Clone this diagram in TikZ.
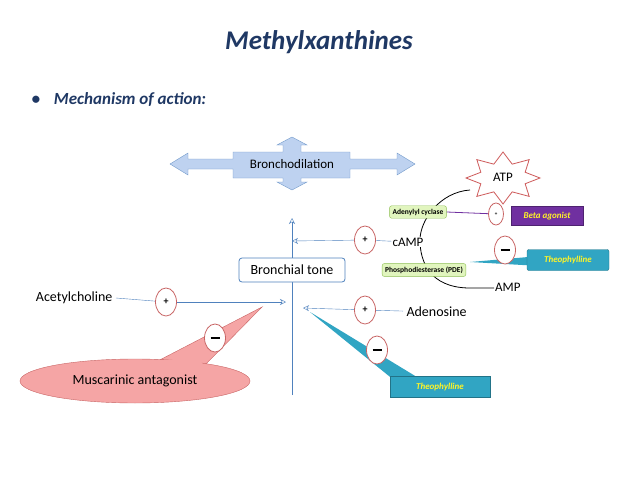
\documentclass[tikz,border=0pt]{standalone}
\usepackage{fontspec}
\setmainfont{Carlito}
\usetikzlibrary{shapes.geometric,shapes.symbols,positioning,arrows.meta}
\tikzset{>=Stealth}
\definecolor{titleblue}{RGB}{31,56,100}
\definecolor{lineblue}{RGB}{79,129,189}
\definecolor{arrowfill}{RGB}{190,210,240}
\definecolor{signred}{RGB}{200,100,100}
\definecolor{boxgreen}{RGB}{225,245,190}
\definecolor{edgegreen}{RGB}{140,190,80}
\definecolor{tealbox}{RGB}{49,165,195}
\definecolor{purplebox}{RGB}{112,48,160}
\definecolor{pinkfill}{RGB}{245,165,165}
\tikzset{
  sign/.style={ellipse,draw=signred,thick,fill=white,minimum width=21pt,minimum height=28pt,inner sep=0pt,font=\bfseries},
  enzyme/.style={draw=edgegreen,fill=boxgreen,rounded corners=2pt,font=\fontsize{7.5}{8}\selectfont\bfseries,inner sep=3pt},
  drug/.style={fill=tealbox,draw=tealbox!70!black,font=\fontsize{9}{10}\selectfont\bfseries\itshape,text=yellow!85!white},
  txt/.style={font=\fontsize{14}{16}\selectfont},
  flow/.style={lineblue,->,>={Stealth[open,length=6pt,width=6pt]}},
}
\newcommand{\minus}{\rule{9pt}{1.8pt}}
\begin{document}
\begin{tikzpicture}[x=1pt,y=-1pt]
  \useasboundingbox (0,0) rectangle (638,479);

  % headings
  \node[font=\fontsize{27}{30}\selectfont\bfseries\itshape,text=titleblue] (title) at (319,42) {Methylxanthines};
  \node[anchor=west,font=\fontsize{17}{20}\selectfont\bfseries\itshape,text=titleblue] (bullet) at (28,100) {•\hspace{14pt}Mechanism of action:};

  % bronchodilation arrows
  \fill[arrowfill,draw=lineblue!80] (170,164) -- (188,153) -- (188,159) -- (233,159) -- (233,152) -- (283,152)
    -- (283,145) -- (277,145) -- (292,137) -- (307,145) -- (301,145) -- (301,152) -- (350,152) -- (350,159)
    -- (397,159) -- (397,153) -- (415,164) -- (397,175) -- (397,169) -- (350,169) -- (350,178) -- (301,178)
    -- (301,182) -- (307,182) -- (292,190) -- (277,182) -- (283,182) -- (283,178) -- (233,178) -- (233,169)
    -- (188,169) -- (188,175) -- cycle;
  \node[txt,font=\fontsize{13}{15}\selectfont] (dil) at (292,164) {Bronchodilation};

  % axis
  \coordinate (axbot) at (292,395);
  \coordinate (axtop) at (292,218);
  \draw[flow] (axbot) -- (axtop);
  \node[draw=lineblue,thick,fill=white,rounded corners=3pt,txt,minimum width=106pt,minimum height=24pt] (tone) at (292,270) {Bronchial tone};

  % cycle
  \draw[thick] (470,190) .. controls (440,192) and (420,220) .. (420,240)
    .. controls (420,262) and (430,287) .. (468,288) -- (494,288);
  \draw[signred!90!red,thick,fill=white] (540,178)
    \foreach \a in {1,...,15} {
      -- ({503+(mod(\a,2)==0 ? 37 : 24)*cos(\a*22.5)},{178+(mod(\a,2)==0 ? 26 : 15)*sin(\a*22.5)})
    } -- cycle;
  \node[font=\fontsize{13}{15}\selectfont] (atp) at (503,177) {ATP};
  \node[enzyme] (ac) at (418,212) {Adenylyl cyclase};
  \node[enzyme] (pde) at (424,270) {Phosphodiesterase (PDE)};
  \node[txt,font=\fontsize{13}{15}\selectfont,fill=white,inner sep=1pt] (camp) at (408,242) {cAMP};
  \node[txt,font=\fontsize{13}{15}\selectfont,anchor=west,inner sep=1pt] (amp) at (494,287) {AMP};

  % beta agonist
  \node[fill=purplebox,draw=purplebox!70!black,minimum width=72pt,minimum height=19pt,font=\fontsize{9}{10}\selectfont\bfseries\itshape,text=yellow!85!white] (beta) at (547,216) {Beta agonist};
  \node[sign,minimum width=15pt,minimum height=22pt,font=\tiny\bfseries] (pbeta) at (496,214) {+};
  \draw[purplebox,thick] (ac.east) -- (pbeta);

  % theophylline on PDE
  \fill[tealbox] (470,262) -- (540,256) -- (540,266) -- cycle;
  \node[drug,minimum width=82pt,minimum height=21pt,rounded corners=2pt] (theo1) at (568,260) {Theophylline};
  \node[sign] (mpde) at (505,250) {\minus};

  % cAMP arrow
  \node[sign] (pcamp) at (365,240) {+};
  \coordinate (campend) at (292,241);
  \draw[lineblue] (camp) -- (pcamp);
  \draw[flow] (pcamp) -- (campend);

  % adenosine
  \node[txt,anchor=west] (ado) at (403,312) {Adenosine};
  \node[sign] (pado) at (365,310) {+};
  \coordinate (adoend) at (303,308);
  \draw[lineblue] (ado) -- (pado);
  \draw[flow] (pado) -- (adoend);

  % theophylline on adenosine
  \fill[tealbox] (310,312) -- (430,385) -- (400,385) -- cycle;
  \node[drug,minimum width=100pt,minimum height=21pt] (theo2) at (440,387) {Theophylline};
  \node[sign] (mado) at (377,350) {\minus};

  % acetylcholine
  \node[txt,anchor=east] (ach) at (116,298) {Acetylcholine};
  \node[sign] (pach) at (166,302) {+};
  \coordinate (achend) at (286,302);
  \draw[lineblue] (ach.east) -- (pach);
  \draw[flow] (pach) -- (achend);

  % muscarinic antagonist
  \fill[pinkfill,draw=signred] (150,365) -- (262,307) -- (205,365);
  \node[ellipse,fill=pinkfill,draw=signred,minimum width=230pt,minimum height=44pt,txt] (musc) at (135,381) {Muscarinic antagonist};
  \fill[pinkfill] (151,366) -- (204,366) -- (200,360) -- (160,360) -- cycle;
  \node[sign] (mach) at (215,338) {\minus};
\end{tikzpicture}
\end{document}
